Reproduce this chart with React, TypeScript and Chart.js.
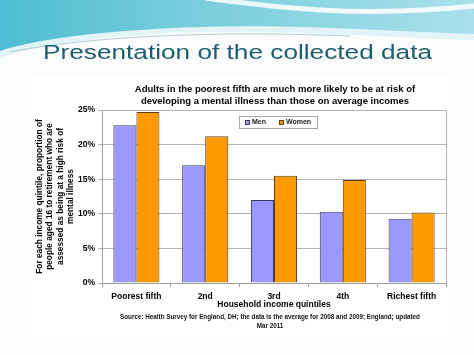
import { useEffect, useRef } from 'react';
import { Chart, registerables } from 'chart.js';

Chart.register(...registerables);

const categories = ['Poorest fifth', '2nd', '3rd', '4th', 'Richest fifth'];
const menValues = [22.8, 17.0, 12.0, 10.3, 9.3];
const womenValues = [24.7, 21.2, 15.5, 14.9, 10.2];
const seriesLabels = ['Men', 'Women'];
const yMax = 25;
const yStep = 5;

const slideTitle = 'Presentation of the collected data';
const chartTitle = [
  'Adults in the poorest fifth are much more likely to be at risk of',
  'developing a mental illness than those on average incomes',
];
const yTitle = [
  'For each income quintile, proportion of',
  'people aged 16 to retirement who are',
  'assessed as being at a high risk of',
  'mental illness',
];
const xTitle = 'Household income quintiles';
const sourceText = [
  'Source: Health Survey for England, DH; the data is the average for 2008 and 2009; England; updated',
  'Mar 2011',
];

const FONT = '"Liberation Sans", Arial, Helvetica, sans-serif';

const slidePlugin = {
  id: 'slideBackground',
  beforeDraw(chart: any) {
    const ctx = chart.ctx as CanvasRenderingContext2D;
    const W = chart.width;
    const H = chart.height;
    ctx.save();
    ctx.fillStyle = '#fafbfb';
    ctx.fillRect(0, 0, W, H);
    ctx.fillStyle = '#ffffff';
    ctx.fillRect(32, 76, 416, 260);

    // pale band under the wave
    ctx.beginPath();
    ctx.moveTo(0, 0);
    ctx.lineTo(W, 0);
    ctx.lineTo(W, 40);
    ctx.bezierCurveTo(400, 38, 300, 30, 200, 32);
    ctx.bezierCurveTo(110, 34, 40, 44, 0, 58);
    ctx.closePath();
    ctx.fillStyle = '#e3f4f7';
    ctx.fill();

    // main teal wave
    const g = ctx.createLinearGradient(0, 0, W, 0);
    g.addColorStop(0, '#4dbdd1');
    g.addColorStop(0.45, '#7dcfdd');
    g.addColorStop(1, '#a9e0ea');
    ctx.beginPath();
    ctx.moveTo(0, 0);
    ctx.lineTo(W, 0);
    ctx.lineTo(W, 34);
    ctx.bezierCurveTo(400, 32, 300, 24, 200, 27);
    ctx.bezierCurveTo(110, 30, 40, 38, 0, 51);
    ctx.closePath();
    ctx.fillStyle = g;
    ctx.fill();

    // white streak top right
    ctx.beginPath();
    ctx.moveTo(205, -2);
    ctx.bezierCurveTo(280, 8, 360, 18, 474, 6);
    ctx.strokeStyle = 'rgba(255,255,255,0.85)';
    ctx.lineWidth = 5;
    ctx.stroke();

    // thin line
    ctx.beginPath();
    ctx.moveTo(10, 52);
    ctx.bezierCurveTo(80, 38, 200, 30, 350, 36);
    ctx.strokeStyle = 'rgba(90,150,165,0.45)';
    ctx.lineWidth = 1;
    ctx.stroke();

    // slide title
    ctx.font = `20.5px ${FONT}`;
    ctx.fillStyle = '#1d5e6d';
    ctx.textBaseline = 'alphabetic';
    ctx.textAlign = 'left';
    const tw = ctx.measureText(slideTitle).width;
    ctx.translate(43, 59);
    ctx.scale(389 / tw, 1);
    ctx.fillText(slideTitle, 0, 0);
    ctx.restore();
  },
  afterDraw(chart: any) {
    const ctx = chart.ctx as CanvasRenderingContext2D;
    const a = chart.chartArea;
    ctx.save();
    // right border of plot
    ctx.strokeStyle = '#b4b4b4';
    ctx.lineWidth = 1;
    ctx.beginPath();
    ctx.moveTo(Math.round(a.right) + 0.5, a.top);
    ctx.lineTo(Math.round(a.right) + 0.5, a.bottom);
    ctx.stroke();

    // chart title
    ctx.fillStyle = '#000000';
    ctx.textAlign = 'center';
    ctx.textBaseline = 'middle';
    ctx.font = `bold 9.5px ${FONT}`;
    chartTitle.forEach((t, i) => ctx.fillText(t, 275, 89.5 + i * 12));

    // source
    ctx.font = `bold 6.3px ${FONT}`;
    ctx.fillStyle = '#111111';
    sourceText.forEach((t, i) => ctx.fillText(t, 270, 317 + i * 9));

    // legend
    ctx.font = `bold 7px ${FONT}`;
    const ds = chart.data.datasets;
    const items = ds.map((d: any) => ({
      label: d.label,
      fill: d.backgroundColor,
      stroke: d.borderColor,
      w: 5 + 2 + ctx.measureText(d.label).width,
    }));
    const gap = 13;
    const padX = 6;
    const inner = items.reduce((s: number, it: any) => s + it.w, 0) + gap * (items.length - 1);
    const boxW = Math.round(inner + padX * 2);
    const boxH = 12;
    const cx = (a.left + a.right) / 2 + 4;
    const left = Math.round(cx - boxW / 2);
    const top = Math.round(a.top + 6);
    ctx.fillStyle = '#ffffff';
    ctx.fillRect(left, top, boxW, boxH);
    ctx.strokeStyle = '#a8a8a8';
    ctx.strokeRect(left + 0.5, top + 0.5, boxW, boxH);
    let x = left + padX;
    const cy = top + boxH / 2 + 0.5;
    ctx.textAlign = 'left';
    items.forEach((it: any) => {
      ctx.fillStyle = it.fill;
      ctx.fillRect(x, cy - 2.5, 5, 5);
      ctx.strokeStyle = it.stroke;
      ctx.strokeRect(x + 0.5, cy - 2.5 + 0.5, 4, 4);
      ctx.fillStyle = '#222222';
      ctx.fillText(it.label, x + 7, cy);
      x += it.w + gap;
    });
    ctx.restore();
  },
};

export default function App() {
  const ref = useRef<HTMLCanvasElement | null>(null);
  useEffect(() => {
    if (!ref.current) return;
    const chart = new Chart(ref.current, {
      type: 'bar',
      data: {
        labels: categories,
        datasets: [
          {
            label: seriesLabels[0],
            data: menValues,
            backgroundColor: '#9999ff',
            borderColor: '#3d3d5c',
            borderWidth: 1,
            categoryPercentage: 0.67,
            barPercentage: 1.0,
          },
          {
            label: seriesLabels[1],
            data: womenValues,
            backgroundColor: '#ff9900',
            borderColor: '#5c3d1a',
            borderWidth: 1,
            categoryPercentage: 0.67,
            barPercentage: 1.0,
          },
        ],
      },
      options: {
        responsive: false,
        animation: false,
        devicePixelRatio: 1,
        layout: { padding: { left: 32, right: 28, top: 110, bottom: 44 } },
        plugins: {
          legend: { display: false },
          title: { display: false },
          tooltip: { enabled: false },
        },
        scales: {
          x: {
            afterFit: (s: any) => { s.height = 28; },
            grid: {
              display: true,
              drawOnChartArea: false,
              drawTicks: true,
              tickLength: 4,
              offset: true,
              color: '#a0a0a0',
            },
            border: { display: true, color: '#a0a0a0' },
            ticks: {
              color: '#000000',
              padding: 5,
              maxRotation: 0,
              autoSkip: false,
              font: { family: FONT, size: 8.5, weight: 'bold' },
            },
            title: {
              display: true,
              text: xTitle,
              color: '#000000',
              padding: { top: 0, bottom: 1 },
              font: { family: FONT, size: 8.5, weight: 'bold', lineHeight: 1.2 },
            },
          },
          y: {
            min: 0,
            max: yMax,
            afterFit: (s: any) => { s.width = 70; },
            ticks: {
              stepSize: yStep,
              color: '#000000',
              padding: 3,
              callback: (v: any) => `${v}%`,
              font: { family: FONT, size: 8.5, weight: 'bold' },
            },
            grid: { color: '#b4b4b4', drawTicks: true, tickLength: 4 },
            border: { display: true, color: '#a0a0a0' },
            title: {
              display: true,
              text: yTitle,
              color: '#000000',
              padding: { top: 2, bottom: 0 },
              font: { family: FONT, size: 8.3, weight: 'bold', lineHeight: 1.27 },
            },
          },
        },
      },
      plugins: [slidePlugin],
    } as any);
    return () => chart.destroy();
  }, []);

  return (
    <div style={{ position: 'absolute', left: 0, top: 0, width: 474, height: 355 }}>
      <canvas ref={ref} width={474} height={355} style={{ display: 'block', width: 474, height: 355 }} />
    </div>
  );
}
